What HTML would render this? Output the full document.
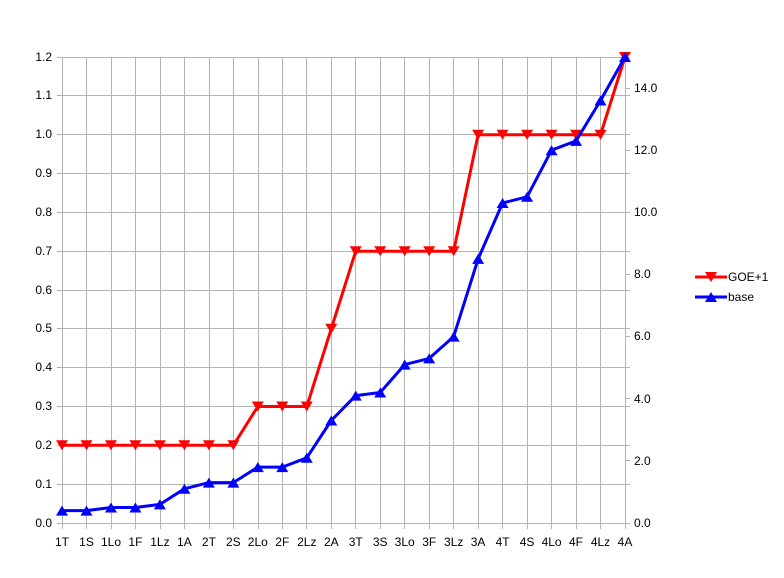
<!DOCTYPE html>
<html><head><meta charset="utf-8"><style>
html,body{margin:0;padding:0;background:#fff;}
svg{display:block;font-family:"Liberation Sans",sans-serif;font-size:12px;}
</style></head><body>
<svg width="784" height="578" viewBox="0 0 784 578">
<defs>
<marker id="dn" markerUnits="userSpaceOnUse" markerWidth="14" markerHeight="14" refX="7" refY="7" overflow="visible"><polygon points="1,2 13,2 7,12" fill="#f00"/></marker>
<marker id="up" markerUnits="userSpaceOnUse" markerWidth="14" markerHeight="14" refX="7" refY="7" overflow="visible"><polygon points="1,12 13,12 7,2" fill="#00f"/></marker>
</defs>
<g stroke="#b3b3b3" stroke-width="1">
<path d="M57 523.5H630M57 484.5H630M57 445.5H630M57 406.5H630M57 367.5H630M57 328.5H630M57 290.5H630M57 251.5H630M57 212.5H630M57 173.5H630M57 134.5H630M57 95.5H630M57 57.5H630"/>
<path d="M62.5 57V529M86.5 57V529M111.5 57V529M135.5 57V529M160.5 57V529M184.5 57V529M209.5 57V529M233.5 57V529M258.5 57V529M282.5 57V529M306.5 57V529M331.5 57V529M355.5 57V529M380.5 57V529M404.5 57V529M429.5 57V529M453.5 57V529M478.5 57V529M502.5 57V529M527.5 57V529M551.5 57V529M576.5 57V529M600.5 57V529M625.5 57V529"/>
<path d="M625 460.5H630M625 398.5H630M625 336.5H630M625 274.5H630M625 212.5H630M625 150.5H630M625 88.5H630"/>
</g>
<g text-anchor="end" fill="#000">
<text x="52" y="527">0.0</text><text x="52" y="488">0.1</text><text x="52" y="449">0.2</text><text x="52" y="410">0.3</text><text x="52" y="371">0.4</text><text x="52" y="332">0.5</text><text x="52" y="294">0.6</text><text x="52" y="255">0.7</text><text x="52" y="216">0.8</text><text x="52" y="177">0.9</text><text x="52" y="138">1.0</text><text x="52" y="99">1.1</text><text x="52" y="61">1.2</text>
</g>
<g fill="#000">
<text x="634" y="527">0.0</text><text x="634" y="465">2.0</text><text x="634" y="403">4.0</text><text x="634" y="340">6.0</text><text x="634" y="278">8.0</text><text x="634" y="216">10.0</text><text x="634" y="154">12.0</text><text x="634" y="92">14.0</text>
</g>
<g text-anchor="middle" fill="#000">
<text x="62" y="546">1T</text><text x="86.5" y="546">1S</text><text x="111" y="546">1Lo</text><text x="135.4" y="546">1F</text><text x="159.9" y="546">1Lz</text><text x="184.4" y="546">1A</text><text x="208.9" y="546">2T</text><text x="233.3" y="546">2S</text><text x="257.8" y="546">2Lo</text><text x="282.3" y="546">2F</text><text x="306.8" y="546">2Lz</text><text x="331.3" y="546">2A</text><text x="355.7" y="546">3T</text><text x="380.2" y="546">3S</text><text x="404.7" y="546">3Lo</text><text x="429.2" y="546">3F</text><text x="453.7" y="546">3Lz</text><text x="478.1" y="546">3A</text><text x="502.6" y="546">4T</text><text x="527.1" y="546">4S</text><text x="551.6" y="546">4Lo</text><text x="576" y="546">4F</text><text x="600.5" y="546">4Lz</text><text x="625" y="546">4A</text>
</g>
<polyline fill="none" stroke="#f00" stroke-width="3" stroke-linejoin="round" marker-start="url(#dn)" marker-mid="url(#dn)" marker-end="url(#dn)"
points="62,445.3 86.48,445.3 110.96,445.3 135.43,445.3 159.91,445.3 184.39,445.3 208.87,445.3 233.35,445.3 257.83,406.5 282.3,406.5 306.78,406.5 331.26,328.8 355.74,251.2 380.22,251.2 404.7,251.2 429.17,251.2 453.65,251.2 478.13,134.7 502.61,134.7 527.09,134.7 551.57,134.7 576.04,134.7 600.52,134.7 625,57"/>
<polyline fill="none" stroke="#00f" stroke-width="3" stroke-linejoin="round" marker-start="url(#up)" marker-mid="url(#up)" marker-end="url(#up)"
points="62,510.6 86.48,510.6 110.96,507.5 135.43,507.5 159.91,504.4 184.39,488.8 208.87,482.6 233.35,482.6 257.83,467.1 282.3,467.1 306.78,457.8 331.26,420.5 355.74,395.6 380.22,392.5 404.7,364.6 429.17,358.4 453.65,336.6 478.13,258.9 502.61,203 527.09,196.8 551.57,150.2 576.04,140.9 600.52,100.5 625,57"/>
<line x1="695" y1="277" x2="727" y2="277" stroke="#f00" stroke-width="3"/>
<polygon points="705,272 717,272 711,282" fill="#f00"/>
<text x="728" y="281" fill="#000">GOE+1</text>
<line x1="695" y1="297" x2="727" y2="297" stroke="#00f" stroke-width="3"/>
<polygon points="705,302 717,302 711,292" fill="#00f"/>
<text x="728" y="301" fill="#000">base</text>
</svg>
</body></html>
